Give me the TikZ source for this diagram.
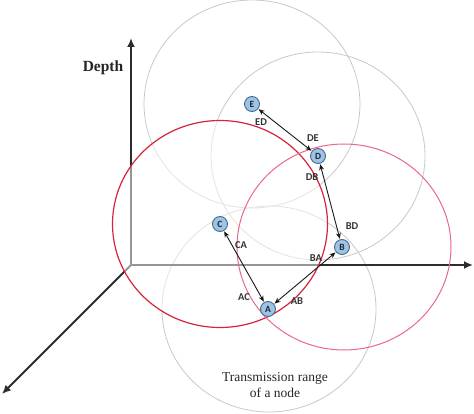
\documentclass[tikz,border=0pt]{standalone}
\usepackage{fontspec}
\setmainfont{Liberation Serif}
\newfontfamily\lblfont{Carlito}
\usetikzlibrary{arrows.meta}
\definecolor{nodefill}{RGB}{157,195,230}
\definecolor{nodedraw}{RGB}{70,105,140}
\definecolor{redring}{RGB}{215,35,60}
\definecolor{pinkring}{RGB}{232,105,135}
\definecolor{grayring}{RGB}{200,200,200}
\definecolor{axiscol}{RGB}{45,45,45}
\begin{document}
\begin{tikzpicture}[x=1pt,y=-1pt,
  grayrange/.style={draw=grayring, line width=0.8pt},
  redrange/.style={draw=redring, line width=1.2pt},
  pinkrange/.style={draw=pinkring, line width=1.0pt},
  axisline/.style={draw=axiscol, line width=1.8pt, -{Latex[length=9pt,width=8pt]}},
  nd/.style={circle, draw=nodedraw, line width=0.9pt, fill=nodefill, minimum size=15pt, inner sep=0pt, font=\lblfont\bfseries\fontsize{9.5}{9.5}\selectfont, text=black!85},
  link/.style={draw=black!90, line width=0.9pt, {Stealth[length=6pt,width=5pt]}-{Stealth[length=6pt,width=5pt]}, shorten <=0.5pt, shorten >=0.5pt},
  lbl/.style={font=\lblfont\bfseries\fontsize{10.5}{10.5}\selectfont, text=black!80, inner sep=0pt},
  captxt/.style={font=\fontsize{13.5}{16}\selectfont, text=black!85, align=center}
]
\useasboundingbox (0,0) rectangle (474,414);
\clip (0,0) rectangle (474,414);
% transmission ranges (gray)
\draw[grayrange] (252,104) ellipse [x radius=108pt, y radius=104pt];
\draw[grayrange] (318,156) ellipse [x radius=107pt, y radius=104pt];
\draw[grayrange] (269,309) ellipse [x radius=107pt, y radius=103pt];
% axes
\coordinate (O) at (131,265);
\coordinate (Ytip) at (131,38);
\coordinate (Xtip) at (473,265);
\coordinate (Ztip) at (2,394);
\draw[axisline] (O) -- (Ytip);
\draw[axisline] (O) -- (Xtip);
\draw[axisline] (O) -- (Ztip);
\node[font=\bfseries\fontsize{15.5}{15.5}\selectfont, text=black!85] (depth) at (103,68) {Depth};
% red ranges
\draw[redrange, fill=white, fill opacity=0.5] (220,224) ellipse [x radius=107.5pt, y radius=103.5pt];
\draw[pinkrange] (344,247) ellipse [x radius=107pt, y radius=103pt];
% nodes
\node[nd] (E) at (252,104) {E};
\node[nd] (D) at (318,156) {D};
\node[nd] (C) at (220,224) {C};
\node[nd] (B) at (342,247) {B};
\node[nd] (A) at (268,309) {A};
% links
\draw[link] (E) -- (D);
\draw[link] (D) -- (B);
\draw[link] (C) -- (A);
\draw[link] (A) -- (B);
% labels
\node[lbl] (ed) at (261,122) {ED};
\node[lbl] (de) at (313,138) {DE};
\node[lbl] (db) at (312,177) {DB};
\node[lbl] (bd) at (352,226) {BD};
\node[lbl] (ca) at (241,245) {CA};
\node[lbl] (ba) at (316,258) {BA};
\node[lbl] (ac) at (244,297) {AC};
\node[lbl] (ab) at (297,301) {AB};
\node[captxt] (cap) at (275,385) {Transmission range\\of a node};
\end{tikzpicture}
\end{document}
